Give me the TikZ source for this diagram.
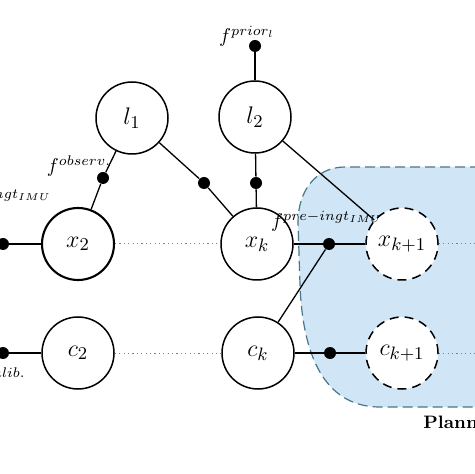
\documentclass[tikz,border=0pt]{standalone}
\definecolor{planfill}{RGB}{208,230,246}
\definecolor{planedge}{RGB}{72,118,138}
\begin{document}
\begin{tikzpicture}[x=0.5pt,y=-0.5pt,
  var/.style={circle, draw, line width=0.75pt, fill=white, minimum size=36pt, inner sep=0pt, font=\fontsize{12.5}{15}\selectfont},
  planvar/.style={var, dash pattern=on 4.5pt off 3pt},
  fac/.style={circle, fill=black, minimum size=6pt, inner sep=0pt},
  link/.style={line width=0.65pt},
  chain/.style={line width=0.5pt, gray, dash pattern=on 0.6pt off 1.6pt},
  flabel/.style={inner sep=0pt, font=\fontsize{10}{12}\selectfont}]
\useasboundingbox (0,0) rectangle (474,474);

% planning region
\path[fill=planfill, draw=planedge, line width=0.6pt, dash pattern=on 5pt off 2.5pt]
  (495,167) -- (345,167) .. controls (315,167) and (298,192) .. (298,222)
  -- (300,285) .. controls (303,365) and (330,407) .. (380,407) -- (495,407);

% variables
\node[var] (l1) at (132,118) {$l_1$};
\node[var] (l2) at (255,117) {$l_2$};
\node[var, line width=1.05pt] (x2) at (78,244) {$x_2$};
\node[var] (xk) at (257,244) {$x_k$};
\node[planvar] (xk1) at (402,244) {$x_{k+1}$};
\node[var] (c2) at (78,353) {$c_2$};
\node[var] (ck) at (258,353) {$c_k$};
\node[planvar] (ck1) at (402,353) {$c_{k+1}$};

% factors
\node[fac] (fprior) at (255,46) {};
\node[fac] (fobs) at (103,178) {};
\node[fac] (fl1xk) at (204,183) {};
\node[fac] (fl2xk) at (256,183) {};
\node[fac] (fpre) at (329,244) {};
\node[fac] (fx2) at (3,244) {};
\node[fac] (fc2) at (3,353) {};
\node[fac] (fck) at (330,353) {};

\coordinate (xend) at (480,244);
\coordinate (cend) at (480,353);

% connectors
\draw[link] (fprior) -- (l2);
\draw[link] (x2) -- (fobs) -- (l1);
\draw[link] (l1) -- (fl1xk) -- (xk);
\draw[link] (l2) -- (fl2xk) -- (xk);
\draw[link] (l2) -- (xk1);
\draw[link] (xk) -- (fpre) -- (xk1);
\draw[link] (ck) -- (fpre);
\draw[link] (fx2) -- (x2);
\draw[link] (fc2) -- (c2);
\draw[link] (ck) -- (fck) -- (ck1);
\draw[chain] (x2) -- (xk);
\draw[chain] (c2) -- (ck);
\draw[chain] (xk1) -- (xend);
\draw[chain] (ck1) -- (cend);

% labels
\node[flabel] (lprior) at (247,36) {$f^{prior_l}$};
\node[flabel] (lobs) at (79,166) {$f^{observ.}$};
\node[flabel, anchor=east] (lpreL) at (52,199) {$f^{pre{-}ingt_{IMU}}$};
\node[flabel] (lpreR) at (327,221) {$f^{pre{-}ingt_{IMU}}$};
\node[flabel, anchor=east] (lcal) at (26,378) {$f^{calib.}$};
\node[inner sep=0pt, anchor=west, font=\fontsize{9}{11}\selectfont\bfseries] (plan) at (423,424) {Planning};
\end{tikzpicture}
\end{document}
